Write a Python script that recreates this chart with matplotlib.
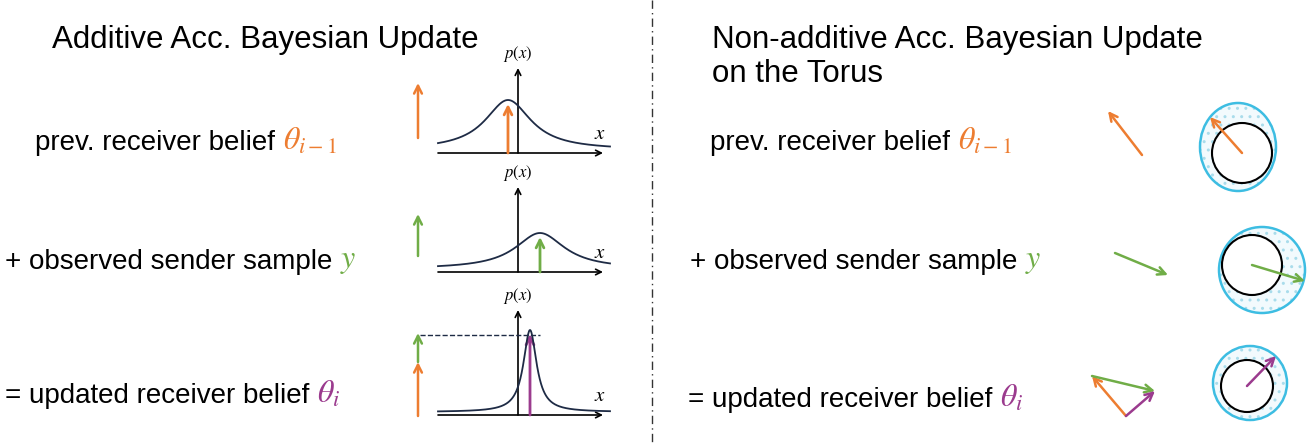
import numpy as np
import matplotlib.pyplot as plt
from matplotlib.patches import Ellipse, Circle, FancyArrowPatch

plt.rcParams['mathtext.fontset'] = 'stix'
ORANGE = '#ED7D31'; GREEN = '#70AD47'; PURPLE = '#9B3B8E'; CYAN = '#3DBDE2'; NAVY = '#1E2B45'

titles = ["Additive Acc. Bayesian Update", "Non-additive Acc. Bayesian Update\non the Torus"]
left_labels = ["prev. receiver belief ", "+ observed sender sample ", "= updated receiver belief "]
symbols = [r"$\theta_{i-1}$", r"$y$", r"$\theta_i$"]
sym_colors = [ORANGE, GREEN, PURPLE]

fig = plt.figure(figsize=(13.11, 4.46), dpi=100)
ax = fig.add_axes([0, 0, 1, 1])
ax.set_xlim(0, 1311); ax.set_ylim(446, 0); ax.axis('off')

def arrow(x0, y0, x1, y1, c, lw=1.8, ms=14):
    ax.add_patch(FancyArrowPatch((x0, y0), (x1, y1), arrowstyle='->', mutation_scale=ms,
                                 color=c, lw=lw, shrinkA=0, shrinkB=0))

FS = 20
ax.text(52, 40, titles[0], fontsize=22.5, va='center', family='Liberation Sans')
ax.text(712, 57, titles[1], fontsize=22.5, va='center', family='Liberation Sans', linespacing=1.2)
ax.plot([652, 652], [0, 446], color='#333333', lw=1, ls=(0, (6, 3, 1, 3)))

fig.canvas.draw()
def labeled(x, y, i):
    t = ax.text(x, y, left_labels[i], fontsize=FS, va='center', family='Liberation Sans')
    bb = t.get_window_extent(renderer=fig.canvas.get_renderer())
    xd, _ = ax.transData.inverted().transform((bb.x1, 0))
    ax.text(xd, y - 2, symbols[i], fontsize=FS + 3, va='center', color=sym_colors[i])

labeled(35, 143, 0); labeled(5, 262, 1); labeled(5, 396, 2)
labeled(710, 143, 0); labeled(690, 262, 1); labeled(688, 400, 2)

# left side arrows
arrow(418, 138, 418, 83, ORANGE)
arrow(418, 256, 418, 214, GREEN)
arrow(418, 416, 418, 362, ORANGE)
arrow(418, 362, 418, 333, GREEN)

# mini plots: (x axis y, peak x, peak y, width)
plots = [(153, 508, 103, 28), (272, 540, 236, 30), (415, 530, 333, 8)]
pcols = [ORANGE, GREEN, PURPLE]
for (yb, px, py, w), c in zip(plots, pcols):
    arrow(438, yb, 603, yb, 'black', lw=1.2, ms=10)
    top = yb - (85 if yb != 415 else 105)
    arrow(518, yb, 518, top, 'black', lw=1.2, ms=10)
    ax.text(518, top - 4, r"$p(x)$", fontsize=12, ha='center', va='bottom')
    ax.text(600, yb - 10, r"$x$", fontsize=15, ha='center', va='bottom')
    xs = np.linspace(438, 610, 400)
    h = yb - py
    ys = yb - 3 - h / (1 + ((xs - px) / w) ** 2)
    ax.plot(xs, ys, color=NAVY, lw=1.3)
    arrow(px, yb, px, py + 1, c, lw=2)
ax.plot([420, 540], [335, 335], color=NAVY, lw=1, ls='--')

# right side arrows
arrow(1142, 155, 1108, 111, ORANGE)
arrow(1115, 253, 1168, 275, GREEN)
arrow(1126, 416, 1092, 376, ORANGE)
arrow(1092, 376, 1155, 391, GREEN)
arrow(1126, 416, 1155, 391, PURPLE)

# tori
tori = [((1238, 147), 76, 88, (1242, 153), 30, ORANGE, (1210, 117)),
        ((1262, 270), 86, 86, (1252, 265), 30, GREEN, (1305, 281)),
        ((1250, 383), 74, 74, (1247, 386), 26, PURPLE, (1276, 356))]
for cen, w, h, cc, r, col, tip in tori:
    ax.add_patch(Ellipse(cen, w, h, facecolor='#F2FAFD', edgecolor='#A9DCEB', hatch='..', lw=0))
    ax.add_patch(Ellipse(cen, w, h, facecolor='none', edgecolor=CYAN, lw=1.8))
    ax.add_patch(Circle(cc, r, facecolor='white', edgecolor='black', lw=1.5))
    arrow(cc[0], cc[1], tip[0], tip[1], col)

fig.savefig('out.png', dpi=100)
